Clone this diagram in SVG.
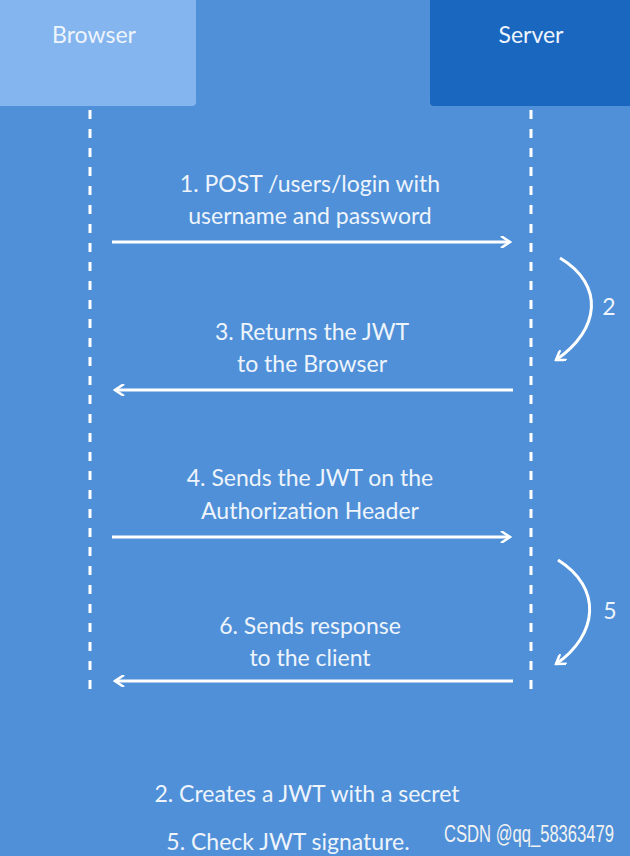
<svg xmlns="http://www.w3.org/2000/svg" width="630" height="856" viewBox="0 0 630 856">
<style>
text{font-family:"Lato","Open Sans",sans-serif;fill:#eef4fc;font-size:23px;text-anchor:middle}
.life{stroke:#fff;stroke-width:3;stroke-dasharray:9 10;fill:none}
.msg{stroke:#fff;stroke-width:3;fill:none}
</style>
<defs>
<marker id="ah" markerWidth="12" markerHeight="12" refX="10" refY="6" orient="auto" markerUnits="userSpaceOnUse">
<path d="M1,0 L10,6 L1,12" fill="none" stroke="#fff" stroke-width="2.5"/>
</marker>
</defs>
<rect width="630" height="856" fill="#4f90d8"/>
<g id="browser"><rect x="-5" y="-5" width="201" height="111" rx="4" fill="#85b5ee"/><text x="94" y="43" font-size="26">Browser</text></g>
<g id="server"><rect x="430" y="-5" width="205" height="111" rx="4" fill="#1a67c0"/><text x="531" y="43" font-size="26">Server</text></g>
<g id="connectors">
<line class="life" x1="90" y1="110" x2="90" y2="690"/>
<line class="life" x1="531" y1="110" x2="531" y2="690"/>
<line class="msg" x1="112" y1="242" x2="510" y2="242" marker-end="url(#ah)"/>
<line class="msg" x1="513" y1="390" x2="115" y2="390" marker-end="url(#ah)"/>
<line class="msg" x1="112" y1="537" x2="510" y2="537" marker-end="url(#ah)"/>
<line class="msg" x1="513" y1="681" x2="115" y2="681" marker-end="url(#ah)"/>
<path class="msg" d="M560,258 C605,285 600,330 556,360" marker-end="url(#ah)"/>
<path class="msg" d="M558,560 C603,588 598,635 556,664" marker-end="url(#ah)"/>
</g>
<g id="labels">
<text x="310" y="192">1. POST /users/login with</text>
<text x="310" y="224">username and password</text>
<text x="312" y="340">3. Returns the JWT</text>
<text x="312" y="372">to the Browser</text>
<text x="310" y="486">4. Sends the JWT on the</text>
<text x="310" y="519">Authorization Header</text>
<text x="310" y="634">6. Sends response</text>
<text x="310" y="666">to the client</text>
<text x="609" y="315">2</text>
<text x="610" y="619">5</text>
<text x="307" y="802">2. Creates a JWT with a secret</text>
<text x="288" y="850">5. Check JWT signature.</text>
<text x="444" y="842" font-size="14" textLength="170" lengthAdjust="spacingAndGlyphs" style="text-anchor:start;font-family:'Liberation Sans',sans-serif;fill:#f2f2f2">CSDN @qq_58363479</text>
</g>
</svg>
